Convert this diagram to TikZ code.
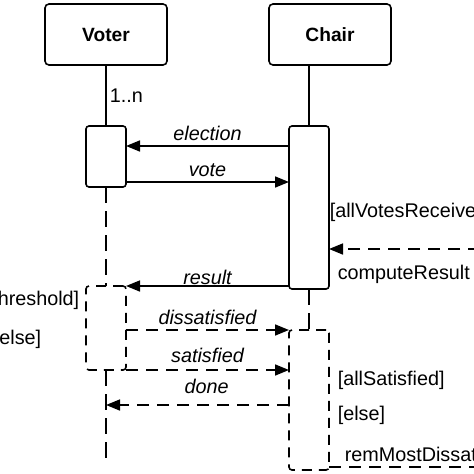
\documentclass[tikz,border=0pt]{standalone}
\usepackage{fontspec}
\setmainfont{Liberation Sans}
\usetikzlibrary{arrows.meta}

\begin{document}
\begin{tikzpicture}[x=1pt, y=-1pt, line width=1.6pt,
    font=\fontsize{19.8}{23}\selectfont,
    actor/.style={draw, rounded corners=4pt, minimum width=122pt,
      minimum height=61pt, font=\fontsize{19.2}{23}\selectfont\bfseries},
    act/.style={draw, rounded corners=3pt, minimum width=40pt, inner sep=0pt,
      outer sep=0pt},
    frag/.style={act, dash pattern=on 10pt off 7pt},
    lifeline/.style={dash pattern=on 16pt off 8pt},
    dashline/.style={dash pattern=on 12pt off 8pt},
    msg/.style={-{Triangle[length=14pt,width=11pt]}},
    reply/.style={msg, dashline},
    lbl/.style={font=\fontsize{19.8}{23}\selectfont\itshape, inner sep=0pt},
    txt/.style={inner sep=0pt}]
    \useasboundingbox (0,0) rectangle (474,474);
    \clip (0,0) rectangle (474,474);

    % \draw [help lines, thin, step=10pt] (0,0) grid (474,474);
    \node[actor] (voter) at (106,34.5) {Voter};
    \node[actor] (chair) at (330,34.5) {Chair};

    \node[act, minimum height=61pt] (voterAct) at (106,156.5) {};
    \node[act, minimum height=163pt] (chairAct) at (309,207.5) {};
    \node[frag, minimum height=84pt] (voterAlt) at (106,328) {};
    \node[frag, minimum height=140pt] (chairAlt) at (309,400) {};

    \coordinate (voterEnd) at (106,462);
    \coordinate (crFrom) at (480,249);
    \coordinate (remTo) at (480,467);
    \coordinate (doneFrom) at ([yshift=-75pt]chairAlt.north west);

    % lifelines
    \draw (voter.south) -- node[right=3pt, txt] {1..n} (voterAct.north);
    \draw (chairAct.north |- chair.south) -- (chairAct.north);
    \draw[lifeline] (voterAct.south) -- (voterAlt.north);
    \draw[lifeline] (voterAlt.south) -- (voterEnd);
    \draw[lifeline] (chairAct.south) -- (chairAlt.north);

    % messages
    \draw[msg] ([yshift=-20pt]chairAct.north west)
      -- node[lbl, above=5pt] {election} ([yshift=-20pt]voterAct.north east);
    \draw[msg] ([yshift=5pt]voterAct.south east)
      -- node[lbl, above=5pt] {vote} ([yshift=-56pt]chairAct.north west);
    \draw[reply] (crFrom) -- (crFrom -| chairAct.east);
    \draw[msg] (chairAct.west |- voterAlt.north)
      -- node[lbl, above=1pt] {result} (voterAlt.north east);
    \draw[reply] (voterAlt.east |- chairAlt.north)
      -- node[lbl, above=5pt] {dissatisfied} (chairAlt.north west);
    \draw[reply] (voterAlt.south east)
      -- node[lbl, above=7pt] {satisfied} (voterAlt.south -| chairAlt.west);
    \draw[reply] (doneFrom)
      -- node[lbl, above=11pt, pos=0.45] {done} (doneFrom -| voterEnd);
    \draw[dashline] ([yshift=3pt]chairAlt.south east) -- (remTo);

    % guards
    \node[txt, anchor=west] (guardVotes) at (chairAct.east |- 0,212) {[allVotesReceived]};
    \node[txt, anchor=west] (crLabel) at (337,274) {computeResult};
    \node[txt, anchor=east] (guardThr) at (80,300) {[threshold]};
    \node[txt, anchor=east] (guardElseV) at (42,339) {[else]};
    \node[txt, anchor=west] (guardSat) at (337,380) {[allSatisfied]};
    \node[txt, anchor=west] (guardElseC) at (337,415) {[else]};
    \node[txt, anchor=west] (remLabel) at (344,454) {remMostDissatisfied};
  \end{tikzpicture}
\end{document}
